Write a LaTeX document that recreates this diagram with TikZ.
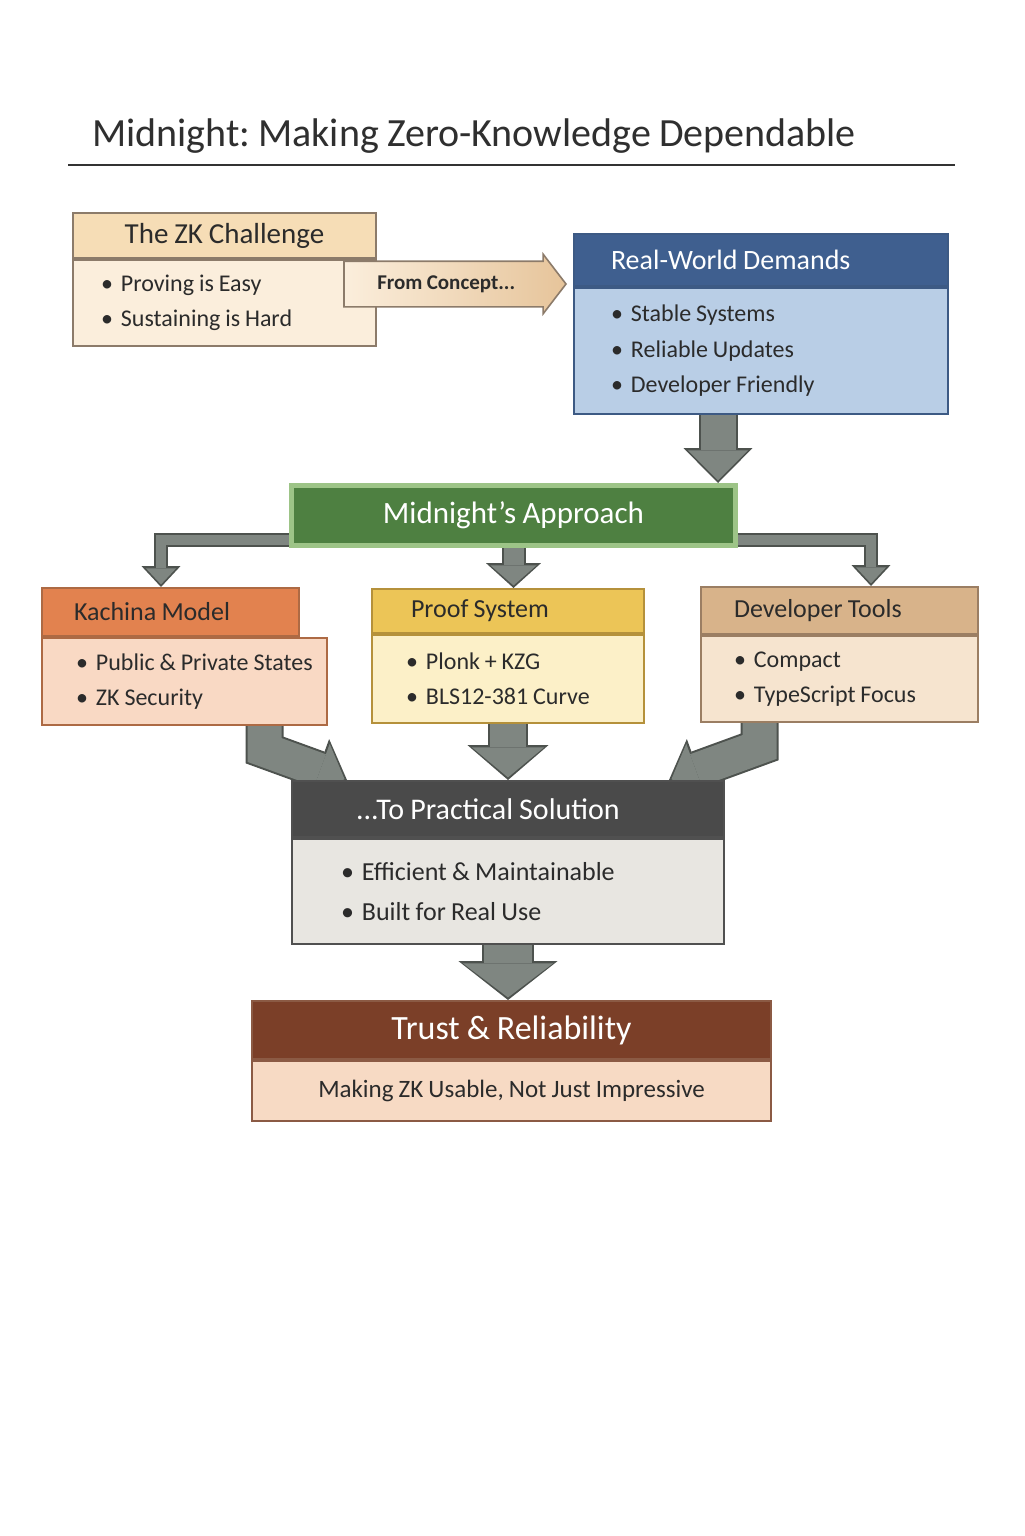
\documentclass[tikz,border=0pt]{standalone}
\usepackage{fontspec}
\setmainfont{Carlito}[WordSpace=0.9]
\usepackage{tikz}
\usetikzlibrary{positioning,arrows.meta,shapes.arrows,backgrounds}
\definecolor{mdink}{HTML}{2B2B2B}
\definecolor{mdtitle}{HTML}{2F2F2F}
\definecolor{mdrule}{HTML}{333333}
\definecolor{chalhead}{HTML}{F6DDB6}
\definecolor{chalbody}{HTML}{FBEEDC}
\definecolor{chaledge}{HTML}{8C7B6A}
\definecolor{concepttip}{HTML}{E6C49A}
\definecolor{demhead}{HTML}{3F5F8F}
\definecolor{dembody}{HTML}{B9CEE6}
\definecolor{demedge}{HTML}{3D5A84}
\definecolor{apprfill}{HTML}{4E8041}
\definecolor{appredge}{HTML}{9DC487}
\definecolor{kachhead}{HTML}{E2824F}
\definecolor{kachbody}{HTML}{F9D9C4}
\definecolor{kachedge}{HTML}{AD6A44}
\definecolor{proofhead}{HTML}{ECC557}
\definecolor{proofbody}{HTML}{FCF0C8}
\definecolor{proofedge}{HTML}{B5913B}
\definecolor{devhead}{HTML}{D8B38A}
\definecolor{devbody}{HTML}{F6E4CF}
\definecolor{devedge}{HTML}{9B7E63}
\definecolor{solhead}{HTML}{4A4A4A}
\definecolor{solbody}{HTML}{E8E6E1}
\definecolor{soledge}{HTML}{505050}
\definecolor{trusthead}{HTML}{7B3F28}
\definecolor{trustbody}{HTML}{F7DAC4}
\definecolor{trustedge}{HTML}{8B5A44}
\definecolor{arrowfill}{HTML}{7F8681}
\definecolor{arrowedge}{HTML}{4D524E}
\newcommand{\bitem}[1]{\mbox{\textbullet\hspace{4pt}#1}}
\frenchspacing

\begin{document}
\begin{tikzpicture}[x=0.5pt, y=-0.5pt,
    hdr/.style={draw, line width=1pt, anchor=north west, inner xsep=0pt, text=mdink,
        execute at begin node={\spaceskip=0pt\xspaceskip=0pt}},
    bodybox/.style={draw, line width=1pt, align=left, text=mdink, font=\fontsize{12}{17.5}\selectfont,
        execute at begin node={\spaceskip=0pt\xspaceskip=0pt}},
    fat/.style n args={5}{draw=arrowfill, line width=#1, line join=miter, shorten >=1.3pt,
        -{Triangle[length=#3, width=#2, line width=0pt]},
        preaction={draw=arrowedge, line width=#1+2pt, line join=miter, shorten >=0pt,
            -{Triangle[length=#5, width=#4, line width=0pt]}}},
]
    \node[font=\fontsize{20}{24}\selectfont, text=mdtitle] (title) at (474,136) {Midnight: Making Zero-Knowledge Dependable};
    \draw[mdrule, line width=1.4pt] (68,165) -- (955,165);

    \node[hdr, fill=chalhead, draw=chaledge, minimum width=151.5pt, minimum height=22.5pt, font=\fontsize{14.5}{16}\selectfont] (chalH) at (72,212) {The ZK Challenge};
    \node[bodybox, fill=chalbody, draw=chaledge, below=0pt of chalH, text width=123.5pt, inner xsep=14pt, minimum height=43pt] (chalB) {\bitem{Proving is Easy}\\\bitem{Sustaining is Hard}};

    \node[single arrow, draw=chaledge, line width=0.8pt, left color=chalbody, right color=concepttip, single arrow head extend=3.5pt, single arrow tip angle=105, minimum height=111pt, text height=7pt, text depth=2pt, inner ysep=6.5pt, anchor=tip, font=\bfseries\fontsize{10.5}{12}\selectfont, text=mdink] (concept) at (567,284) {From Concept...};

    \node[hdr, fill=demhead, draw=demedge, text=white, text width=150pt, inner xsep=18.5pt, align=left, minimum height=26pt, font=\fontsize{14}{16}\selectfont] (demH) at (573,233) {Real-World Demands};
    \node[bodybox, fill=dembody, draw=demedge, below=0pt of demH, text width=150pt, inner xsep=18.5pt, minimum height=63pt, font=\fontsize{12}{17.75}\selectfont] (demB) {\bitem{Stable Systems}\\\bitem{Reliable Updates}\\\bitem{Developer Friendly}};

    \node[hdr, fill=apprfill, draw=appredge, line width=2.5pt, text=white, minimum width=222pt, minimum height=30pt, font=\fontsize{15.5}{18}\selectfont] (appr) at (289,483) {Midnight’s Approach};

    \node[hdr, fill=kachhead, draw=kachedge, text width=96.5pt, inner xsep=16pt, align=left, minimum height=24pt, font=\fontsize{13}{15}\selectfont] (kachH) at (41,587) {Kachina Model};
    \node[bodybox, fill=kachbody, draw=kachedge, below=0pt of kachH.south west, anchor=north west, text width=108.5pt, inner xsep=17pt, minimum height=43.5pt] (kachB) {\bitem{Public \& Private States}\\\bitem{ZK Security}};

    \node[hdr, fill=proofhead, draw=proofedge, text width=97pt, inner xsep=19.5pt, align=left, minimum height=22pt, font=\fontsize{13}{15}\selectfont] (proofH) at (371,588) {Proof System};
    \node[bodybox, fill=proofbody, draw=proofedge, below=0pt of proofH, text width=102pt, inner xsep=17pt, minimum height=44pt] (proofB) {\bitem{Plonk + KZG}\\\bitem{BLS12-381 Curve}};

    \node[hdr, fill=devhead, draw=devedge, text width=105.5pt, inner xsep=16.5pt, align=left, minimum height=23.5pt, font=\fontsize{13}{15}\selectfont] (devH) at (700,586) {Developer Tools};
    \node[bodybox, fill=devbody, draw=devedge, below=0pt of devH, text width=105.5pt, inner xsep=16.5pt, minimum height=43pt] (devB) {\bitem{Compact}\\\bitem{TypeScript Focus}};

    \node[hdr, fill=solhead, draw=soledge, text=white, text width=152pt, inner xsep=32pt, align=left, minimum height=28pt, font=\fontsize{15}{17}\selectfont] (solH) at (291,780) {...To Practical Solution};
    \node[bodybox, fill=solbody, draw=soledge, below=0pt of solH, text width=167pt, inner xsep=24.5pt, minimum height=52.5pt, font=\fontsize{13}{20}\selectfont] (solB) {\bitem{Efficient \& Maintainable}\\\bitem{Built for Real Use}};

    \node[hdr, fill=trusthead, draw=trustedge, text=white, minimum width=259.5pt, minimum height=29pt, font=\fontsize{17}{19}\selectfont] (trustH) at (251,1000) {Trust \& Reliability};
    \node[bodybox, fill=trustbody, draw=trustedge, below=0pt of trustH, minimum width=259.5pt, minimum height=30pt, align=center, font=\fontsize{12.5}{15}\selectfont] (trustB) {Making ZK Usable, Not Just Impressive};

    \begin{scope}[on background layer]
        \fill[white] (0,0) rectangle (1024,1536);
        \draw[fat={17.5pt}{30pt}{15pt}{34.4pt}{17.4pt}] ([xshift=-21.5pt]demB.south) -- ([xshift=-21.5pt]demB.south |- appr.north);
        \draw[fat={5pt}{15pt}{8pt}{19.4pt}{10.4pt}] ([yshift=-12pt]appr.west) -| ([xshift=-4.75pt]kachH.north);
        \draw[fat={10pt}{23pt}{10pt}{27.4pt}{12.4pt}] (appr.south) -- (appr.south |- proofH.north);
        \draw[fat={5pt}{15pt}{8pt}{19.4pt}{10.4pt}] ([yshift=-12pt]appr.east) -| ([xshift=15.75pt]devH.north);
        \draw[fat={17pt}{28pt}{13pt}{32.4pt}{15.4pt}] ([xshift=40pt]kachB.south) -- ++(0,24) -- ([xshift=28pt]solH.north west);
        \draw[fat={18pt}{36pt}{15pt}{40.4pt}{17.4pt}] (proofB.south) -- (proofB.south |- solH.north);
        \draw[fat={17pt}{28pt}{13pt}{32.4pt}{15.4pt}] ([xshift=-40pt]devB.south) -- ++(0,24) -- ([xshift=-28pt]solH.north east);
        \draw[fat={24pt}{45pt}{17pt}{49.4pt}{19.4pt}] (solB.south) -- (solB.south |- trustH.north);
    \end{scope}
\end{tikzpicture}
\end{document}
